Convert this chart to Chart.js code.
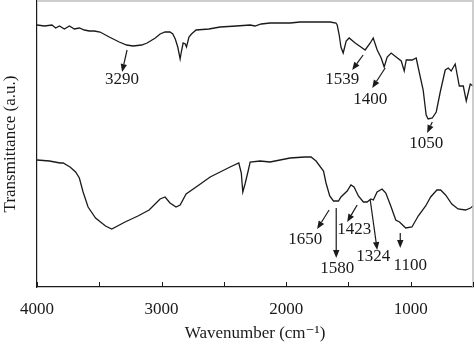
<!DOCTYPE html>
<html>
<head>
<meta charset="utf-8">
<script src="https://cdn.jsdelivr.net/npm/chart.js@4.4.1/dist/chart.umd.min.js"></script>
<style>
  body { margin: 0; background: #fff; }
</style>
</head>
<body>
<canvas id="ftirChart" width="474" height="345"></canvas>
<script>
// Upper spectrum (wavenumber cm-1, transmittance a.u.)
const upperWave = [4000, 3940, 3880, 3850, 3820, 3780, 3740, 3700, 3660, 3620, 3580, 3540, 3494, 3420, 3340, 3280, 3229, 3160, 3116, 3050, 3012, 2972, 2932, 2910, 2890, 2870, 2851, 2840, 2827, 2810, 2800, 2780, 2760, 2723, 2620, 2530, 2400, 2289, 2250, 2200, 2129, 1968, 1888, 1647, 1600, 1590, 1574, 1560, 1542, 1518, 1494, 1446, 1400, 1366, 1325, 1301, 1269, 1237, 1213, 1189, 1157, 1117, 1076, 1052, 1036, 988, 956, 932, 900, 876, 860, 827, 795, 763, 723, 699, 675, 643, 610, 578, 554, 522, 500];
const upperT = [262, 261, 262, 259, 261, 258, 261, 258, 259, 257, 256, 256, 255, 250, 245, 242, 241, 242, 244, 249, 253, 255, 255, 253, 248, 240, 228, 236, 244, 243, 240, 250, 253, 257, 258, 260, 261, 262, 261, 263, 264, 264, 265, 265, 264, 262, 252, 240, 234, 246, 249, 244, 240, 237, 244, 249, 237, 229, 220, 230, 234, 230, 226, 216, 227, 227, 229, 215, 197, 172, 168, 169, 175, 195, 217, 219, 216, 223, 201, 201, 186, 203, 201];

// Lower spectrum
const lowerWave = [4000, 3900, 3815, 3790, 3735, 3690, 3660, 3630, 3590, 3530, 3450, 3400, 3293, 3190, 3100, 3012, 2972, 2932, 2884, 2851, 2803, 2700, 2610, 2530, 2450, 2380, 2360, 2348, 2330, 2305, 2289, 2209, 2129, 1968, 1850, 1800, 1760, 1700, 1680, 1650, 1620, 1580, 1560, 1510, 1480, 1455, 1420, 1380, 1350, 1320, 1300, 1270, 1230, 1200, 1160, 1120, 1090, 1040, 990, 940, 880, 840, 790, 760, 720, 670, 620, 560, 520, 500];
const lowerT = [127, 126, 124, 124, 120, 115, 109, 95, 80, 69, 61, 58, 65, 71, 77, 88, 90, 84, 80, 82, 93, 102, 110, 115, 120, 124, 114, 95, 103, 116, 125, 126, 125, 129, 130, 130, 126, 116, 104, 91, 86, 86, 90, 96, 102, 100, 91, 85, 85, 88, 87, 95, 98, 94, 81, 67, 65, 59, 60, 71, 81, 90, 97, 97, 92, 83, 78, 77, 79, 81];

const xTickLabels = [4000, 3000, 2000, 1000];
const xTickMarks = [4000, 3500, 3000, 2500, 2000, 1500, 1000, 500];

// peak annotations: label position and arrow (from -> tip), in data units
const peaks = [
    { text: '3290', lx: 3317, ly: 207, fx: 3277, fy: 237, tx: 3317, ty: 215 },
    { text: '1539', lx: 1550, ly: 207, fx: 1382, fy: 232, tx: 1470, ty: 217 },
    { text: '1400', lx: 1325, ly: 187, fx: 1205, fy: 219, tx: 1309, ty: 199 },
    { text: '1050', lx: 876, ly: 143, fx: 827, fy: 165, tx: 868, ty: 154 },
    { text: '1650', lx: 1847, ly: 47, fx: 1655, fy: 77, tx: 1751, ty: 58 },
    { text: '1580', lx: 1590, ly: 18, fx: 1598, fy: 79, tx: 1598, ty: 29 },
    { text: '1423', lx: 1454, ly: 57, fx: 1430, fy: 82, tx: 1510, ty: 65 },
    { text: '1324', lx: 1301, ly: 30, fx: 1325, fy: 87, tx: 1269, ty: 37 },
    { text: '1100', lx: 1004, ly: 21, fx: 1084, fy: 54, tx: 1084, ty: 39 }
];

const serif = '"Liberation Serif", "DejaVu Serif", serif';
const ink = '#1a1a1a';

function toPoints(xs, ys) {
    return xs.map((x, i) => ({ x: x, y: ys[i] }));
}

// frame, inward tick marks and peak arrows
const decorPlugin = {
    id: 'decor',
    afterDraw: (chart) => {
        const { ctx, chartArea, scales } = chart;
        const xs = scales.x, ys = scales.y;
        ctx.save();

        // top and right edges of the frame
        ctx.strokeStyle = '#bdbdbd';
        ctx.lineWidth = 1.5;
        ctx.beginPath();
        ctx.moveTo(chartArea.left, chartArea.top);
        ctx.lineTo(chartArea.right, chartArea.top);
        ctx.lineTo(chartArea.right, chartArea.bottom);
        ctx.stroke();

        // tick marks pointing up into the plot
        ctx.strokeStyle = ink;
        ctx.lineWidth = 1;
        xTickMarks.forEach(v => {
            const px = Math.round(xs.getPixelForValue(v)) + 0.5;
            ctx.beginPath();
            ctx.moveTo(px, chartArea.bottom);
            ctx.lineTo(px, chartArea.bottom - 5);
            ctx.stroke();
        });

        // arrows + labels
        ctx.font = '17px ' + serif;
        ctx.textAlign = 'center';
        ctx.textBaseline = 'middle';
        peaks.forEach(p => {
            const x0 = xs.getPixelForValue(p.fx), y0 = ys.getPixelForValue(p.fy);
            const x1 = xs.getPixelForValue(p.tx), y1 = ys.getPixelForValue(p.ty);
            const ang = Math.atan2(y1 - y0, x1 - x0);
            const headLen = 8, headW = 3.2;
            const bx = x1 - headLen * Math.cos(ang), by = y1 - headLen * Math.sin(ang);
            ctx.strokeStyle = ink;
            ctx.lineWidth = 1.2;
            ctx.beginPath();
            ctx.moveTo(x0, y0);
            ctx.lineTo(bx, by);
            ctx.stroke();
            ctx.fillStyle = ink;
            ctx.beginPath();
            ctx.moveTo(x1, y1);
            ctx.lineTo(bx + headW * Math.sin(ang), by - headW * Math.cos(ang));
            ctx.lineTo(bx - headW * Math.sin(ang), by + headW * Math.cos(ang));
            ctx.closePath();
            ctx.fill();
            ctx.fillText(p.text, xs.getPixelForValue(p.lx), ys.getPixelForValue(p.ly));
        });
        ctx.restore();
    }
};

const ctx = document.getElementById('ftirChart').getContext('2d');

new Chart(ctx, {
    type: 'line',
    data: {
        datasets: [
            { data: toPoints(upperWave, upperT) },
            { data: toPoints(lowerWave, lowerT) }
        ]
    },
    options: {
        responsive: false,
        animation: false,
        layout: { padding: { top: 1, right: 1, left: 0, bottom: 0 } },
        elements: {
            line: { borderColor: ink, borderWidth: 1.3, tension: 0 },
            point: { radius: 0 }
        },
        plugins: {
            legend: { display: false },
            tooltip: { enabled: false }
        },
        scales: {
            x: {
                type: 'linear',
                reverse: true,
                min: 500,
                max: 4000,
                afterBuildTicks: (scale) => {
                    scale.ticks = xTickLabels.map(v => ({ value: v }));
                },
                afterFit: (scale) => { scale.height = 58; },
                grid: { display: false, drawTicks: false },
                border: { display: true, color: ink, width: 1.2 },
                ticks: {
                    color: ink,
                    font: { family: serif, size: 17 },
                    padding: 12,
                    maxRotation: 0,
                    autoSkip: false,
                    callback: (v) => String(v)
                },
                title: {
                    display: true,
                    text: 'Wavenumber (cm\u207B\u00B9)',
                    color: ink,
                    font: { family: serif, size: 17 },
                    padding: { top: 0, bottom: 1 }
                }
            },
            y: {
                min: 0,
                max: 286,
                afterFit: (scale) => { scale.width = 37; },
                grid: { display: false, drawTicks: false },
                border: { display: true, color: ink, width: 1.2 },
                ticks: { display: false },
                title: {
                    display: true,
                    text: 'Transmittance (a.u.)',
                    color: ink,
                    font: { family: serif, size: 17 },
                    padding: { top: 0, bottom: 0 }
                }
            }
        }
    },
    plugins: [decorPlugin]
});
</script>
</body>
</html>
